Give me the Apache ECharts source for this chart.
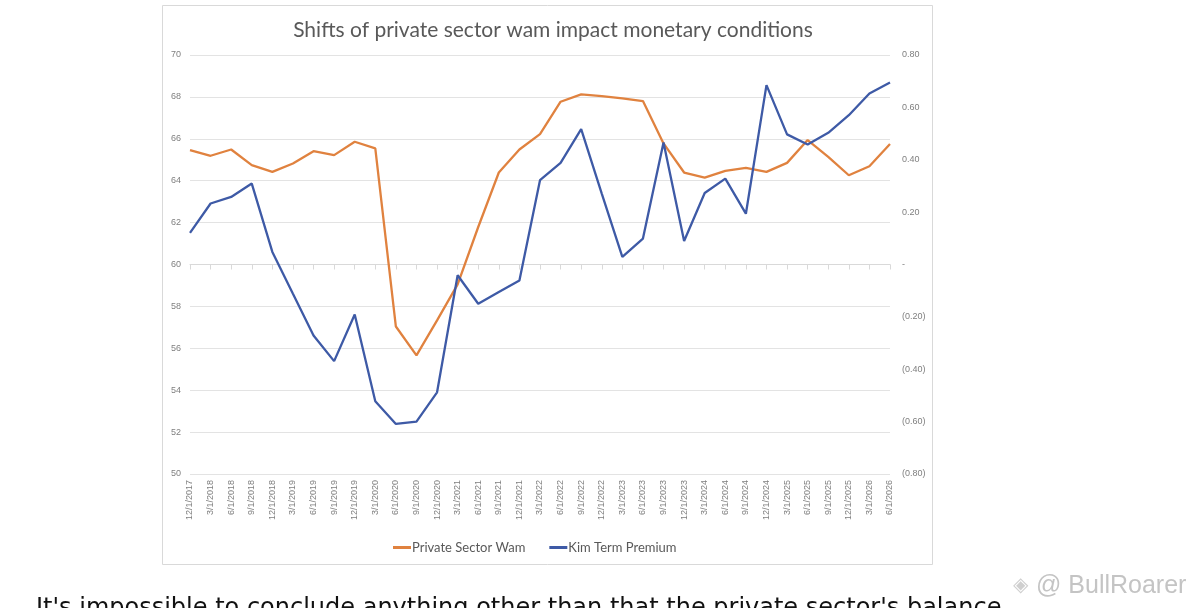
<!DOCTYPE html>
<html>
<head>
<meta charset="utf-8">
<script src="https://cdn.jsdelivr.net/npm/echarts@6/dist/echarts.min.js"></script>
<style>
html,body{margin:0;padding:0;background:#fff;}
#chart{width:1199px;height:608px;}
</style>
</head>
<body>
<div id="chart"></div>
<script>
const categories = ["12/1/2017","3/1/2018","6/1/2018","9/1/2018","12/1/2018","3/1/2019","6/1/2019","9/1/2019","12/1/2019","3/1/2020","6/1/2020","9/1/2020","12/1/2020","3/1/2021","6/1/2021","9/1/2021","12/1/2021","3/1/2022","6/1/2022","9/1/2022","12/1/2022","3/1/2023","6/1/2023","9/1/2023","12/1/2023","3/1/2024","6/1/2024","9/1/2024","12/1/2024","3/1/2025","6/1/2025","9/1/2025","12/1/2025","3/1/2026","6/1/2026"];
const privateSectorWam = [65.46,65.19,65.49,64.74,64.42,64.82,65.41,65.22,65.86,65.54,57.04,55.66,57.33,59.05,61.79,64.39,65.49,66.22,67.77,68.12,68.04,67.93,67.80,65.78,64.39,64.15,64.47,64.61,64.42,64.85,65.94,65.14,64.26,64.69,65.75];
const kimTermPremium = [0.121,0.233,0.258,0.309,0.048,-0.112,-0.271,-0.369,-0.191,-0.522,-0.609,-0.600,-0.488,-0.041,-0.150,-0.105,-0.061,0.322,0.388,0.517,0.271,0.029,0.099,0.466,0.090,0.273,0.328,0.194,0.685,0.497,0.458,0.503,0.570,0.653,0.695];
const seriesNames = ["Private Sector Wam","Kim Term Premium"];
const titleText = "Shifts of private sector wam impact monetary conditions";

const chart = echarts.init(document.getElementById('chart'), null, {renderer:'canvas'});
const labelColor = '#7f7f7f';
chart.setOption({
  animation:false,
  backgroundColor:'#fff',
  title:{text:titleText,left:548,top:15,textAlign:'center',
    textStyle:{fontFamily:'Lato',fontSize:21,fontWeight:'normal',color:'#595959'}},
  legend:{left:388,top:536,itemGap:24,itemWidth:18,itemHeight:3,icon:'rect',
    textStyle:{fontFamily:'Lato',fontSize:13,color:'#595959',padding:[0,0,0,-4]},
    data:seriesNames},
  grid:{left:190,right:309,top:55,height:419},
  xAxis:{type:'category',data:categories,boundaryGap:false,
    axisLine:{lineStyle:{color:'#d9d9d9'}},
    axisTick:{show:true,length:5,lineStyle:{color:'#d9d9d9'}},
    axisLabel:{rotate:90,fontSize:9,color:labelColor,fontFamily:'Liberation Sans',margin:6}},
  yAxis:[
    {type:'value',min:50,max:70,interval:2,position:'left',
     axisLine:{show:false},axisTick:{show:false},
     splitLine:{lineStyle:{color:'#e3e3e3'}},
     axisLabel:{fontSize:9,color:labelColor,fontFamily:'Liberation Sans',margin:9}},
    {type:'value',min:-0.8,max:0.8,interval:0.2,position:'right',
     axisLine:{show:false},axisTick:{show:false},splitLine:{show:false},
     axisLabel:{fontSize:9,color:labelColor,fontFamily:'Liberation Sans',margin:12,
       formatter:function(v){ if(Math.abs(v)<1e-9) return '-'; const s=Math.abs(v).toFixed(2); return v<0?'('+s+')':s; }}}
  ],
  series:[
    {name:seriesNames[0],type:'line',yAxisIndex:0,data:privateSectorWam,symbol:'none',
     lineStyle:{width:2.3,color:'#E0823F'},itemStyle:{color:'#E0823F'}},
    {name:seriesNames[1],type:'line',yAxisIndex:1,data:kimTermPremium,symbol:'none',
     lineStyle:{width:2.3,color:'#3E5AA6'},itemStyle:{color:'#3E5AA6'}}
  ],
  graphic:[
    {type:'rect',shape:{x:162.5,y:5.5,width:770,height:559},style:{fill:'none',stroke:'#d9d9d9',lineWidth:1},silent:true,z:-1},
    {type:'text',left:1036,top:574,style:{text:'@ BullRoarer',fontFamily:'Liberation Sans',fontSize:25,fill:'#c4c4c4'}},
    {type:'text',left:1013,top:576,style:{text:'◈',fontFamily:'DejaVu Sans',fontSize:20,fill:'#cfcfcf'}},
    {type:'text',left:36,top:597,style:{text:"It's impossible to conclude anything other than that the private sector's balance",fontFamily:'DejaVu Sans',fontSize:24,fill:'#111'}}
  ]
});
</script>
</body>
</html>
